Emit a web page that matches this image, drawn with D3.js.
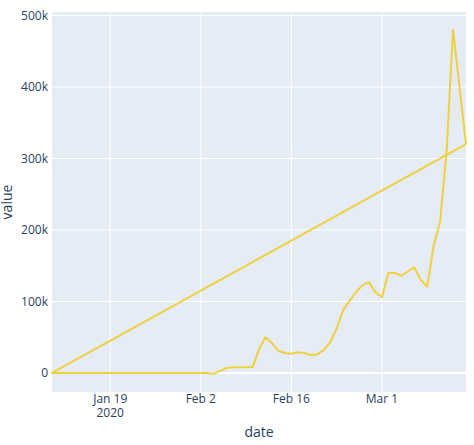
<!DOCTYPE html>
<html>
<head>
<meta charset="utf-8">
<script src="https://d3js.org/d3.v7.min.js"></script>
<style>
  body { margin: 0; background: #fff; }
  text { font-family: "Open Sans", sans-serif; fill: #2a3f5f; }
</style>
</head>
<body>
<svg id="chart"></svg>
<script>
// data: first point is the last day, then the series runs from Jan 10
const startDate = "2020-01-10";
const lastPoint = { date: "2020-03-14", value: 320000 };
const dailyValues = [
  0, 0, 0, 0, 0, 0, 0, 0, 0, 0,            // Jan 10 - Jan 19
  0, 0, 0, 0, 0, 0, 0, 0, 0, 0, 0, 0,      // Jan 20 - Jan 31
  0, 0, 0, -1000, 3000, 7000, 8000, 8000, 8000, 8000, // Feb 1 - Feb 10
  33000, 50000, 42000, 31000, 28000, 27000, 29000, 28000, 25000, 26000, // Feb 11 - 20
  32000, 43000, 62000, 88000, 101000, 113000, 123000, 127000, 113000, // Feb 21 - 29
  106000, 140000, 140000, 136000, 142000, 148000, 130000, 121000, // Mar 1 - 8
  178000, 212000, 310000, 480000, 400000, 320000 // Mar 9 - 14
];
const yTicks = [0, 100000, 200000, 300000, 400000, 500000];
const xTicks = ["2020-01-19", "2020-02-02", "2020-02-16", "2020-03-01"];

const width = 474, height = 445;
const margins = { top: 12, right: 8, bottom: 53, left: 52 };
const chartWidth = width - margins.left - margins.right;
const chartHeight = height - margins.top - margins.bottom;

const parse = d3.timeParse("%Y-%m-%d");
const start = parse(startDate);
let points = [{ date: parse(lastPoint.date), value: lastPoint.value }];
dailyValues.forEach((v, i) => points.push({ date: d3.timeDay.offset(start, i), value: v }));

let svg = d3.select("svg#chart").attr("width", width).attr("height", height);

const scaleX = d3.scaleTime()
  .domain(d3.extent(points, d => d.date))
  .range([0, chartWidth]);
const scaleY = d3.scaleLinear()
  .domain([-26600, 505000])
  .range([chartHeight, 0]);

let chart = svg.append("g").attr("transform", `translate(${margins.left}, ${margins.top})`);

chart.append("rect").attr("width", chartWidth).attr("height", chartHeight).attr("fill", "#E5ECF6");

// gridlines
chart.selectAll(".ygrid").data(yTicks).join("line")
  .attr("x1", 0).attr("x2", chartWidth)
  .attr("y1", d => scaleY(d)).attr("y2", d => scaleY(d))
  .attr("stroke", "#fff").attr("stroke-width", d => d === 0 ? 2 : 1);
chart.selectAll(".xgrid").data(xTicks).join("line")
  .attr("x1", d => scaleX(parse(d))).attr("x2", d => scaleX(parse(d)))
  .attr("y1", 0).attr("y2", chartHeight)
  .attr("stroke", "#fff");

// tick labels
const fmt = d => d === 0 ? "0" : (d / 1000) + "k";
chart.selectAll(".ylab").data(yTicks).join("text")
  .attr("x", -4).attr("y", d => scaleY(d)).attr("dy", "0.35em")
  .attr("text-anchor", "end").style("font-size", "12px")
  .text(fmt);
const xfmt = d3.timeFormat("%b %-d");
chart.selectAll(".xlab").data(xTicks).join("text")
  .attr("x", d => scaleX(parse(d))).attr("y", chartHeight + 11)
  .attr("text-anchor", "middle").style("font-size", "12px")
  .text(d => xfmt(parse(d)));
chart.append("text")
  .attr("x", scaleX(parse(xTicks[0]))).attr("y", chartHeight + 25)
  .attr("text-anchor", "middle").style("font-size", "12px").text("2020");

// line
const lineGen = d3.line().x(d => scaleX(d.date)).y(d => scaleY(d.value));
chart.append("path").datum(points)
  .attr("fill", "none").attr("stroke", "#EFD13F").attr("stroke-width", 2)
  .attr("stroke-linejoin", "round")
  .attr("d", lineGen);

// axis titles
svg.append("text").attr("x", margins.left + chartWidth / 2).attr("y", 437)
  .attr("text-anchor", "middle").style("font-size", "14px").text("date");
svg.append("text").attr("transform", `translate(12, ${margins.top + chartHeight / 2}) rotate(-90)`)
  .attr("text-anchor", "middle").style("font-size", "14px").text("value");
</script>
</body>
</html>
